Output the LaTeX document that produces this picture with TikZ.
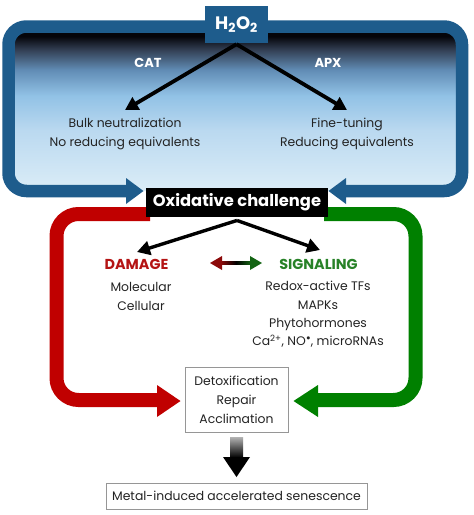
\documentclass[tikz,border=0pt]{standalone}
\usepackage{fontspec}
\setmainfont{Poppins}
\usetikzlibrary{arrows.meta}
\definecolor{bandblue}{RGB}{30,92,140}
\definecolor{bandred}{RGB}{192,0,0}
\definecolor{bandgreen}{RGB}{0,128,0}
\definecolor{dmgred}{RGB}{180,20,20}
\definecolor{siggreen}{RGB}{40,130,40}
\definecolor{boxgray}{RGB}{150,150,150}
\definecolor{txtgray}{RGB}{35,35,35}
\definecolor{darrred}{RGB}{140,10,10}
\definecolor{darrgreen}{RGB}{20,100,20}
\pgfdeclareverticalshading{innerblue}{100bp}{%
 rgb(0bp)=(0.86,0.93,0.97); rgb(25bp)=(0.86,0.93,0.97);
 rgb(43.5bp)=(0.73,0.85,0.94); rgb(54bp)=(0.57,0.76,0.90);
 rgb(61.8bp)=(0.38,0.55,0.71); rgb(67.9bp)=(0.20,0.25,0.33);
 rgb(72bp)=(0.02,0.02,0.04); rgb(100bp)=(0.02,0.02,0.04)}
\begin{document}
\begin{tikzpicture}[x=1pt,y=-1pt,
  txt/.style={font=\fontsize{12.4}{19}\selectfont, text=txtgray, align=center, inner sep=0pt},
  whitelbl/.style={font=\bfseries\fontsize{13}{15}\selectfont, text=white, inner sep=0pt},
  arr/.style={line width=3.8pt, -{Triangle[length=13pt,width=14pt]}},
  graybox/.style={draw=boxgray, line width=0.9pt, fill=white, inner sep=0pt}]
\useasboundingbox (0,0) rectangle (474,515);
% blue loop
\shade[shading=innerblue, rounded corners=18] (8.5,26.5) rectangle (462,191);
\coordinate (bL) at (127,191);
\coordinate (bR) at (345,191);
\draw[bandblue, line width=12.5pt, rounded corners=18] (bL) -- (8.5,191) -- (8.5,26.5) -- (462,26.5) -- (462,191) -- (bR);
\fill[bandblue] (126,178) -- (143.5,191) -- (126,204) -- cycle;
\fill[bandblue] (346,178) -- (328.5,191) -- (346,204) -- cycle;
% H2O2 box
\node[fill=bandblue, minimum width=63pt, minimum height=37pt, inner sep=0pt,
  font=\bfseries\fontsize{18}{20}\selectfont, text=white] (h2o2) at (236.5,24.5) {H\textsubscript{2}O\textsubscript{2}};
\node[whitelbl] (cat) at (148,63) {CAT};
\node[whitelbl] (apx) at (328,63) {APX};
\coordinate (tcat) at (125,110);
\coordinate (tapx) at (347,110);
\draw[arr] ([yshift=-1pt]h2o2.south) -- (tcat);
\draw[arr] ([yshift=-1pt]h2o2.south) -- (tapx);
\node[txt] (bulk) at (125,133.5) {Bulk neutralization\\No reducing equivalents};
\node[txt] (fine) at (347,133.5) {Fine-tuning\\Reducing equivalents};
% red and green loops
\coordinate (rS) at (150,214);
\coordinate (rE) at (158,400);
\draw[bandred, line width=14pt, rounded corners=22] (rS) -- (56.5,214) -- (56.5,400) -- (rE);
\fill[bandred] (157,385) -- (180.5,401) -- (157,417) -- cycle;
\coordinate (gS) at (324,214);
\coordinate (gE) at (317,400);
\draw[bandgreen, line width=14pt, rounded corners=22] (gS) -- (415.5,214) -- (415.5,400) -- (gE);
\fill[bandgreen] (318,385) -- (293.5,401) -- (318,417) -- cycle;
% oxidative challenge
\node[fill=black, minimum width=182pt, minimum height=29.5pt, inner sep=0pt,
  font=\bfseries\fontsize{16.3}{18}\selectfont, text=white] (ox) at (237,202.5) {Oxidative challenge};
\coordinate (tdmg) at (137,252);
\coordinate (tsig) at (320,250);
\draw[arr, line width=3.4pt] ([yshift=-3pt]ox.south) -- (tdmg);
\draw[arr, line width=3.4pt] ([yshift=-3pt]ox.south) -- (tsig);
\node[font=\bfseries\fontsize{14.4}{16}\selectfont, text=dmgred, inner sep=0pt] (dmg) at (136.5,264) {DAMAGE};
\node[font=\bfseries\fontsize{14.4}{16}\selectfont, text=siggreen, inner sep=0pt] (sig) at (318.5,264) {SIGNALING};
% double arrow
\coordinate (dl) at (210,263);
\coordinate (dr) at (262,263);
\shade[left color=darrred, right color=darrgreen, middle color=black] (221,261.2) rectangle (251,264.8);
\fill[darrred] (dl) -- (222,256) -- (222,270) -- cycle;
\fill[darrgreen] (dr) -- (250,256) -- (250,270) -- cycle;
\node[txt] (mol) at (141,296.5) {Molecular\\Cellular};
\node[txt, font=\fontsize{12.4}{18.4}\selectfont] (sigl) at (318,314.5) {Redox-active TFs\\MAPKs\\Phytohormones\\Ca\textsuperscript{2+}, NO\raisebox{3.5pt}{•}, microRNAs};
% detox box
\node[graybox, minimum width=103pt, minimum height=65pt] (detox) at (236.5,399.5) {};
\node[txt] at (detox.center) {Detoxification\\Repair\\Acclimation};
% block arrow down
\coordinate (dtop) at (236.5,437);
\shade[top color=gray!60, bottom color=black] (230,437) rectangle (243,457.5);
\fill[black] (223,457) -- (250,457) -- (236.5,477) -- cycle;
% final box
\node[graybox, minimum width=261pt, minimum height=26pt, txt] (sen) at (236.5,496) {Metal-induced accelerated senescence};
\end{tikzpicture}
\end{document}
